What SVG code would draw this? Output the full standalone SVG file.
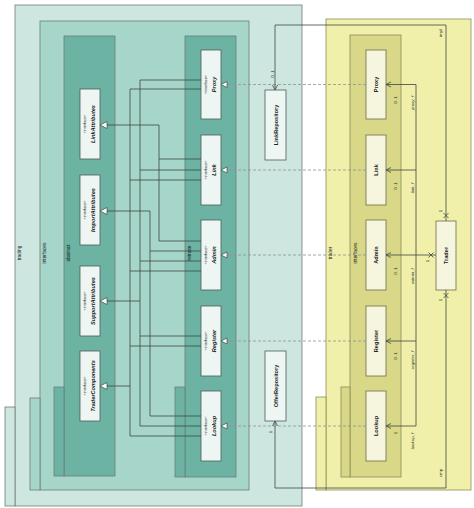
<svg xmlns="http://www.w3.org/2000/svg" width="474" height="508" viewBox="0 0 474 508">
<style>
text{font-family:"Liberation Sans",Arial,sans-serif;fill:#222}
.pk{stroke:#6e7d78;stroke-width:0.8}
.p1{fill:#cde6e0}.p2{fill:#a6d5ca}.p3{fill:#6cb3a3}
.y1{fill:#f0f0aa;stroke:#8c8c5a;stroke-width:0.8}.y2{fill:#d8d888;stroke:#8c8c5a;stroke-width:0.8}
.tn{fill:#eef6f3;stroke:#4d5d58;stroke-width:0.8}
.yn{fill:#f6f6de;stroke:#6d6d4a;stroke-width:0.8}
.st{font-size:3.8px}
.nm{font-size:5.6px;font-weight:bold}
.it{font-style:italic}
.pl{font-size:4.8px}
.lb{font-size:4.4px}
.ln{fill:none;stroke:#3c4743;stroke-width:0.8}
.dl{fill:none;stroke:#8a9692;stroke-width:0.8;stroke-dasharray:3,2}
.tri{fill:#ffffff;stroke:#3c4743;stroke-width:0.7}
.ar{fill:none;stroke:#3c4743;stroke-width:0.8}
</style>

<!-- packages -->
<g id="pkg-trading">
<rect class="pk p1" x="15" y="5" width="287" height="501"/>
<rect class="pk p1" x="5" y="407" width="10" height="99"/>
<text class="pl" transform="translate(21,253) rotate(-90)" text-anchor="middle">trading</text>
</g>
<g id="pkg-trading-interfaces">
<rect class="pk p2" x="40" y="21" width="209" height="469"/>
<rect class="pk p2" x="30" y="398" width="10" height="92"/>
<text class="pl" transform="translate(46,253) rotate(-90)" text-anchor="middle">interfaces</text>
</g>
<g id="pkg-abstract">
<rect class="pk p3" x="64" y="36" width="51" height="440"/>
<rect class="pk p3" x="54" y="387" width="10" height="89"/>
<text class="pl" transform="translate(70,253) rotate(-90)" text-anchor="middle">abstract</text>
</g>
<g id="pkg-remote">
<rect class="pk p3" x="185" y="36" width="51" height="441"/>
<rect class="pk p3" x="175" y="387" width="10" height="90"/>
<text class="pl" transform="translate(191,253) rotate(-90)" text-anchor="middle">remote</text>
</g>
<g id="pkg-trader">
<rect class="y1" x="326" y="19" width="145" height="471"/>
<rect class="y1" x="316" y="397" width="10" height="93"/>
<text class="pl" transform="translate(332,253) rotate(-90)" text-anchor="middle">trader</text>
</g>
<g id="pkg-trader-interfaces">
<rect class="y2" x="350" y="35" width="51" height="442"/>
<rect class="y2" x="341" y="387" width="9" height="90"/>
<text class="pl" transform="translate(357,253) rotate(-90)" text-anchor="middle">interfaces</text>
</g>

<!-- nodes: abstract -->
<g id="LinkAttributes">
<rect class="tn" x="80" y="89" width="20" height="70"/>
<text class="st" transform="translate(85.5,124) rotate(-90)" text-anchor="middle">«interface»</text>
<text class="nm it" transform="translate(94.5,124) rotate(-90)" text-anchor="middle">LinkAttributes</text>
</g>
<g id="ImportAttributes">
<rect class="tn" x="80" y="175" width="20" height="70"/>
<text class="st" transform="translate(85.5,210) rotate(-90)" text-anchor="middle">«interface»</text>
<text class="nm it" transform="translate(94.5,210) rotate(-90)" text-anchor="middle">ImportAttributes</text>
</g>
<g id="SupportAttributes">
<rect class="tn" x="80" y="266" width="20" height="70"/>
<text class="st" transform="translate(85.5,301) rotate(-90)" text-anchor="middle">«interface»</text>
<text class="nm it" transform="translate(94.5,301) rotate(-90)" text-anchor="middle">SupportAttributes</text>
</g>
<g id="TraderComponents">
<rect class="tn" x="80" y="351" width="20" height="70"/>
<text class="st" transform="translate(85.5,386) rotate(-90)" text-anchor="middle">«interface»</text>
<text class="nm it" transform="translate(94.5,386) rotate(-90)" text-anchor="middle">TraderComponents</text>
</g>

<!-- nodes: remote interfaces -->
<g id="IProxy">
<rect class="tn" x="201" y="50" width="20" height="69"/>
<text class="st" transform="translate(206.5,84.5) rotate(-90)" text-anchor="middle">«interface»</text>
<text class="nm it" transform="translate(215.5,84.5) rotate(-90)" text-anchor="middle">Proxy</text>
</g>
<g id="ILink">
<rect class="tn" x="201" y="135" width="20" height="70"/>
<text class="st" transform="translate(206.5,170) rotate(-90)" text-anchor="middle">«interface»</text>
<text class="nm it" transform="translate(215.5,170) rotate(-90)" text-anchor="middle">Link</text>
</g>
<g id="IAdmin">
<rect class="tn" x="201" y="220" width="20" height="70"/>
<text class="st" transform="translate(206.5,255) rotate(-90)" text-anchor="middle">«interface»</text>
<text class="nm it" transform="translate(215.5,255) rotate(-90)" text-anchor="middle">Admin</text>
</g>
<g id="IRegister">
<rect class="tn" x="201" y="306" width="20" height="70"/>
<text class="st" transform="translate(206.5,341) rotate(-90)" text-anchor="middle">«interface»</text>
<text class="nm it" transform="translate(215.5,341) rotate(-90)" text-anchor="middle">Register</text>
</g>
<g id="ILookup">
<rect class="tn" x="201" y="391" width="20" height="70"/>
<text class="st" transform="translate(206.5,426) rotate(-90)" text-anchor="middle">«interface»</text>
<text class="nm it" transform="translate(215.5,426) rotate(-90)" text-anchor="middle">Lookup</text>
</g>

<!-- repositories -->
<g id="LinkRepository">
<rect class="tn" x="265" y="90" width="21" height="70"/>
<text class="nm" transform="translate(277.5,125) rotate(-90)" text-anchor="middle">LinkRepository</text>
</g>
<g id="OfferRepository">
<rect class="tn" x="265" y="351" width="21" height="70"/>
<text class="nm" transform="translate(277.5,386) rotate(-90)" text-anchor="middle">OfferRepository</text>
</g>

<!-- trader impl nodes -->
<g id="Proxy">
<rect class="yn" x="366" y="50" width="20" height="69"/>
<text class="nm" transform="translate(378,84.5) rotate(-90)" text-anchor="middle">Proxy</text>
</g>
<g id="Link">
<rect class="yn" x="366" y="135" width="20" height="70"/>
<text class="nm" transform="translate(378,170) rotate(-90)" text-anchor="middle">Link</text>
</g>
<g id="Admin">
<rect class="yn" x="366" y="220" width="20" height="70"/>
<text class="nm" transform="translate(378,255) rotate(-90)" text-anchor="middle">Admin</text>
</g>
<g id="Register">
<rect class="yn" x="366" y="306" width="20" height="70"/>
<text class="nm" transform="translate(378,341) rotate(-90)" text-anchor="middle">Register</text>
</g>
<g id="Lookup">
<rect class="yn" x="366" y="391" width="20" height="70"/>
<text class="nm" transform="translate(378,426) rotate(-90)" text-anchor="middle">Lookup</text>
</g>
<g id="Trader">
<rect class="yn" x="436" y="221" width="20" height="69"/>
<text class="nm" transform="translate(448,255.5) rotate(-90)" text-anchor="middle">Trader</text>
</g>

<!-- connectors -->
<g id="connectors">
<!-- generalizations -->
<path class="ln" d="M107,125 H159 V241 H201 M159,159 H201"/>
<path class="ln" d="M107,211 H150 V416 H201 M150,251 H201"/>
<path class="ln" d="M107,301 H140 M140,80 V426 H201 M140,80 H201 M140,170 H201 M140,261 H201 M140,336 H201"/>
<path class="ln" d="M107,386 H130 M130,89 V436 H201 M130,89 H201 M130,180 H201 M130,271 H201 M130,346 H201"/>
<polygon class="tri" points="100,125 107,121.5 107,128.5"/>
<polygon class="tri" points="100,211 107,207.5 107,214.5"/>
<polygon class="tri" points="100,301 107,297.5 107,304.5"/>
<polygon class="tri" points="100,386 107,382.5 107,389.5"/>
<!-- realizations -->
<path class="dl" d="M366,84.5 H227 M366,170 H227 M366,255 H227 M366,341 H227 M366,426 H227"/>
<polygon class="tri" points="221,84.5 227,81.5 227,87.5"/>
<polygon class="tri" points="221,170 227,167 227,173"/>
<polygon class="tri" points="221,255 227,252 227,258"/>
<polygon class="tri" points="221,341 227,338 227,344"/>
<polygon class="tri" points="221,426 227,423 227,429"/>
<!-- trader associations -->
<path class="ln" d="M416,84.5 V426 M416,84.5 H386 M416,170 H386 M416,341 H386 M416,426 H386 M436,255 H386"/>
<path class="ar" d="M391,82 L386,84.5 L391,87 M391,167.5 L386,170 L391,172.5 M391,252.5 L386,255 L391,257.5 M391,338.5 L386,341 L391,343.5 M391,423.5 L386,426 L391,428.5"/>
<path class="ar" d="M428.5,252.5 L433.5,257.5 M428.5,257.5 L433.5,252.5"/>
<path class="ln" d="M446,221 V25 H275 V90"/>
<path class="ar" d="M272.5,85 L275,90 L277.5,85"/>
<path class="ar" d="M443.5,213 L448.5,218 M443.5,218 L448.5,213"/>
<path class="ln" d="M446,290 V488 H275 V421"/>
<path class="ar" d="M272.5,426 L275,421 L277.5,426"/>
<path class="ar" d="M443.5,293 L448.5,298 M443.5,298 L448.5,293"/>
<!-- labels -->
<g class="lb">
<text transform="translate(397,100) rotate(-90)" text-anchor="middle">0..1</text>
<text class="it" transform="translate(414,103) rotate(-90)" text-anchor="middle">proxy_f</text>
<text transform="translate(397,186) rotate(-90)" text-anchor="middle">0..1</text>
<text class="it" transform="translate(414,188) rotate(-90)" text-anchor="middle">link_f</text>
<text transform="translate(397,271) rotate(-90)" text-anchor="middle">0..1</text>
<text class="it" transform="translate(414,276) rotate(-90)" text-anchor="middle">admin_f</text>
<text transform="translate(397,356) rotate(-90)" text-anchor="middle">0..1</text>
<text class="it" transform="translate(414,360) rotate(-90)" text-anchor="middle">register_f</text>
<text transform="translate(397,433) rotate(-90)" text-anchor="middle">1</text>
<text class="it" transform="translate(414,441) rotate(-90)" text-anchor="middle">lookup_f</text>
<text transform="translate(429,261) rotate(-90)" text-anchor="middle">1</text>
<text transform="translate(442,211) rotate(-90)" text-anchor="middle">1</text>
<text transform="translate(442,300) rotate(-90)" text-anchor="middle">1</text>
<text transform="translate(274,74) rotate(-90)" text-anchor="middle">0..1</text>
<text transform="translate(272,432) rotate(-90)" text-anchor="middle">1</text>
<text transform="translate(442,33) rotate(-90)" text-anchor="middle">impl</text>
<text transform="translate(442,473) rotate(-90)" text-anchor="middle">cmp</text>
</g>
</g>
</svg>
